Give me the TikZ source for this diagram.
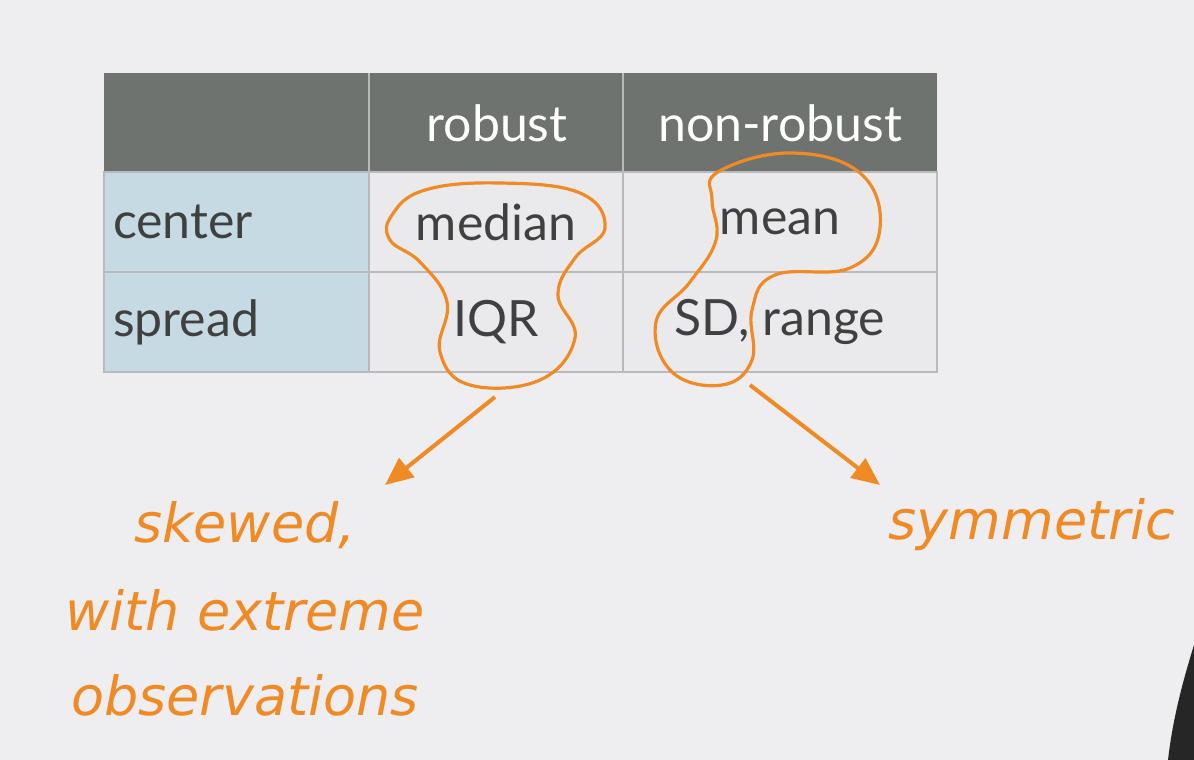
\documentclass[tikz,border=0pt]{standalone}
\usepackage{fontspec}
\setmainfont{Lato}
\newfontfamily\hand{DejaVu Sans}
\usetikzlibrary{arrows.meta}
\definecolor{bg}{HTML}{EEEEF1}
\definecolor{hdr}{HTML}{6E736F}
\definecolor{blu}{HTML}{C6DAE4}
\definecolor{cel}{HTML}{EAEAED}
\definecolor{ln}{HTML}{B8BABC}
\definecolor{org}{HTML}{F08A24}
\tikzset{
 cell/.style={draw=ln,line width=1pt},
 txt/.style={font=\fontsize{25}{28}\selectfont,text=black!75},
 htxt/.style={font=\fontsize{25}{28}\selectfont,text=white},
 loop/.style={draw=org,line width=1.6pt},
 arr/.style={draw=org,line width=2pt,-{Triangle[length=14pt,width=12pt]}},
 hw/.style={font=\hand\itshape\fontsize{27}{30}\selectfont,text=org}
}
\begin{document}
\begin{tikzpicture}[x=0.5pt,y=-0.5pt]
\fill[bg] (0,0) rectangle (1194,760);
\useasboundingbox (0,0) rectangle (1194,760);
\fill[hdr] (104,73) rectangle (937,172);
\draw[ln,line width=1pt] (369,73)--(369,172) (623,73)--(623,172);
\fill[blu] (104,172) rectangle (369,372);
\fill[cel] (369,172) rectangle (937,372);
\draw[cell] (104,172) rectangle (369,272) (104,272) rectangle (369,372)
 (369,172) rectangle (623,272) (369,272) rectangle (623,372)
 (623,172) rectangle (937,272) (623,272) rectangle (937,372);
\node[htxt] (h1) at (497,123) {robust};
\node[htxt] (h2) at (780,123) {non-robust};
\node[txt,anchor=west] (c1) at (106,222) {center};
\node[txt,anchor=west] (c2) at (106,322) {spread};
\node[txt] (m1) at (496,222) {median};
\node[txt] (m2) at (780,222) {mean};
\node[txt] (s1) at (496,322) {IQR};
\node[txt] (s2) at (780,322) {SD, range};
\draw[loop] plot[smooth cycle,tension=0.7] coordinates {(392,215) (425,190) (500,183) (580,193) (605,228) (575,258) (558,295) (575,338) (540,380) (470,385) (440,352) (447,302) (420,262) (390,240)};
\draw[loop] plot[smooth cycle,tension=0.7] coordinates {(718,172) (790,153) (860,173) (880,228) (850,268) (775,275) (752,310) (752,360) (722,385) (672,372) (656,322) (690,282) (716,240) (712,200)};
\coordinate (a1s) at (495,397); \coordinate (a1e) at (385,485);
\coordinate (a2s) at (750,385); \coordinate (a2e) at (880,485);
\draw[arr] (a1s)--(a1e);
\draw[arr] (a2s)--(a2e);
\node[hw] (t1) at (245,525) {skewed,};
\node[hw] (t2) at (245,610) {with extreme};
\node[hw] (t3) at (245,695) {observations};
\node[hw] (t4) at (1032,525) {symmetric};
\fill[black!85] (1194,645) .. controls (1180,690) and (1172,725) .. (1168,760) -- (1194,760) -- cycle;
\end{tikzpicture}
\end{document}
